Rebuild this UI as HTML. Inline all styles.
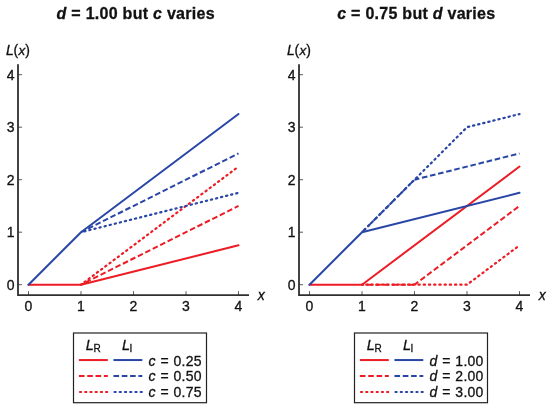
<!DOCTYPE html>
<html><head><meta charset="utf-8"><title>L(x) plots</title>
<style>
html,body{margin:0;padding:0;background:#fff;}
body{width:550px;height:407px;overflow:hidden;}
svg{display:block;}
text{font-family:"Liberation Sans",Arial,sans-serif;fill:#111;stroke:#111;stroke-width:0.3px;}
.i{font-style:italic;}
.tk{font-size:14px;}
.al{font-size:14px;}
.lg{font-size:14.5px;}
.sub{font-size:10px;}
.lt{font-size:14px;word-spacing:0.5px;letter-spacing:0.25px;}
.tt{font-size:16px;font-weight:bold;letter-spacing:0.27px;}
</style></head>
<body>
<svg width="550" height="407" viewBox="0 0 550 407">
<rect width="550" height="407" fill="#fff"/>
<path d="M18.00,64.20V295.20H249.00" fill="none" stroke="#2f2f2f" stroke-width="1.8"/>
<path d="M18.00,284.70h4 M28.50,295.20v-4 M18.00,232.20h4 M81.00,295.20v-4 M18.00,179.70h4 M133.50,295.20v-4 M18.00,127.20h4 M186.00,295.20v-4 M18.00,74.70h4 M238.50,295.20v-4" stroke="#2f2f2f" stroke-width="0.8"/>
<text class="tk" x="14.50" y="289.60" text-anchor="end">0</text>
<text class="tk" x="28.50" y="311.40" text-anchor="middle">0</text>
<text class="tk" x="14.50" y="237.10" text-anchor="end">1</text>
<text class="tk" x="81.00" y="311.40" text-anchor="middle">1</text>
<text class="tk" x="14.50" y="184.60" text-anchor="end">2</text>
<text class="tk" x="133.50" y="311.40" text-anchor="middle">2</text>
<text class="tk" x="14.50" y="132.10" text-anchor="end">3</text>
<text class="tk" x="186.00" y="311.40" text-anchor="middle">3</text>
<text class="tk" x="14.50" y="79.60" text-anchor="end">4</text>
<text class="tk" x="238.50" y="311.40" text-anchor="middle">4</text>
<text class="al" x="6.10" y="54.7"><tspan class="i">L</tspan><tspan dx="-0.5">(</tspan><tspan class="i" font-size="13.5" dx="0.4">x</tspan>)</text>
<text class="al i" x="257.80" y="300" font-size="13">x</text>
<polyline points="28.50,284.70 81.00,284.70 238.50,245.32" fill="none" stroke="#ed1c24" stroke-width="2.0" stroke-linecap="round" stroke-linejoin="round"/>
<polyline points="28.50,284.70 81.00,232.20 238.50,114.07" fill="none" stroke="#2946a6" stroke-width="2.0" stroke-linecap="round" stroke-linejoin="round"/>
<polyline points="81.00,284.70 238.50,205.95" fill="none" stroke="#ed1c24" stroke-width="2.0" stroke-dasharray="5.6 2.73" stroke-dashoffset="53.10"/>
<polyline points="81.00,232.20 238.50,153.45" fill="none" stroke="#2946a6" stroke-width="2.0" stroke-dasharray="5.6 2.73" stroke-dashoffset="75.35"/>
<polyline points="81.00,284.70 238.50,166.57" fill="none" stroke="#ed1c24" stroke-width="2.2" stroke-dasharray="1.3 3.92" stroke-linecap="round" stroke-dashoffset="53.15"/>
<polyline points="81.00,232.20 238.50,192.82" fill="none" stroke="#2946a6" stroke-width="2.2" stroke-dasharray="1.3 3.92" stroke-linecap="round" stroke-dashoffset="74.90"/>
<rect x="73.50" y="333" width="133" height="69.7" fill="none" stroke="#222" stroke-width="1.2"/>
<text class="lg" x="85.80" y="349.9"><tspan class="i">L</tspan><tspan class="sub" dx="-0.4" dy="2.3">R</tspan></text>
<text class="lg" x="121.90" y="349.9"><tspan class="i">L</tspan><tspan class="sub" dx="-0.6" dy="2.3">I</tspan></text>
<line x1="78.90" y1="360.05" x2="107.80" y2="360.05" stroke="#ed1c24" stroke-width="2.0"/>
<line x1="113.45" y1="360.05" x2="142.30" y2="360.05" stroke="#2946a6" stroke-width="2.0"/>
<text class="lt" x="148.60" y="365.60"><tspan class="i">c</tspan> = 0.25</text>
<line x1="78.90" y1="376.00" x2="107.80" y2="376.00" stroke="#ed1c24" stroke-width="2.0" stroke-dasharray="5.6 2.73"/>
<line x1="113.45" y1="376.00" x2="142.30" y2="376.00" stroke="#2946a6" stroke-width="2.0" stroke-dasharray="5.6 2.73"/>
<text class="lt" x="148.60" y="381.40"><tspan class="i">c</tspan> = 0.50</text>
<line x1="78.90" y1="391.95" x2="107.80" y2="391.95" stroke="#ed1c24" stroke-width="2.0" stroke-dasharray="1.3 3.92" stroke-linecap="round" stroke-dashoffset="-1.0"/>
<line x1="113.45" y1="391.95" x2="142.30" y2="391.95" stroke="#2946a6" stroke-width="2.0" stroke-dasharray="1.3 3.92" stroke-linecap="round" stroke-dashoffset="-1.0"/>
<text class="lt" x="148.60" y="397.20"><tspan class="i">c</tspan> = 0.75</text>
<text class="tt" x="56.6" y="18.8"><tspan class="i">d</tspan> = 1.00 but <tspan class="i">c</tspan> varies</text>
<path d="M299.00,64.20V295.20H530.00" fill="none" stroke="#2f2f2f" stroke-width="1.8"/>
<path d="M299.00,284.70h4 M309.50,295.20v-4 M299.00,232.20h4 M362.00,295.20v-4 M299.00,179.70h4 M414.50,295.20v-4 M299.00,127.20h4 M467.00,295.20v-4 M299.00,74.70h4 M519.50,295.20v-4" stroke="#2f2f2f" stroke-width="0.8"/>
<text class="tk" x="295.50" y="289.60" text-anchor="end">0</text>
<text class="tk" x="309.50" y="311.40" text-anchor="middle">0</text>
<text class="tk" x="295.50" y="237.10" text-anchor="end">1</text>
<text class="tk" x="362.00" y="311.40" text-anchor="middle">1</text>
<text class="tk" x="295.50" y="184.60" text-anchor="end">2</text>
<text class="tk" x="414.50" y="311.40" text-anchor="middle">2</text>
<text class="tk" x="295.50" y="132.10" text-anchor="end">3</text>
<text class="tk" x="467.00" y="311.40" text-anchor="middle">3</text>
<text class="tk" x="295.50" y="79.60" text-anchor="end">4</text>
<text class="tk" x="519.50" y="311.40" text-anchor="middle">4</text>
<text class="al" x="287.10" y="54.7"><tspan class="i">L</tspan><tspan dx="-0.5">(</tspan><tspan class="i" font-size="13.5" dx="0.4">x</tspan>)</text>
<text class="al i" x="538.80" y="300" font-size="13">x</text>
<polyline points="309.50,284.70 362.00,284.70 519.50,166.57" fill="none" stroke="#ed1c24" stroke-width="2.0" stroke-linecap="round" stroke-linejoin="round"/>
<polyline points="309.50,284.70 362.00,232.20 519.50,192.82" fill="none" stroke="#2946a6" stroke-width="2.0" stroke-linecap="round" stroke-linejoin="round"/>
<polyline points="362.00,284.70 414.50,284.70" fill="none" stroke="#ed1c24" stroke-width="2.0" stroke-dasharray="5.6 2.73" stroke-dashoffset="3.40"/>
<polyline points="414.50,284.70 519.50,205.95" fill="none" stroke="#ed1c24" stroke-width="2.0" stroke-dasharray="5.6 2.73" stroke-dashoffset="0.90"/>
<polyline points="362.00,232.20 414.50,179.70" fill="none" stroke="#2946a6" stroke-width="2.0" stroke-dasharray="5.6 2.73" stroke-dashoffset="0.40"/>
<polyline points="414.50,179.70 519.50,153.45" fill="none" stroke="#2946a6" stroke-width="2.0" stroke-dasharray="5.6 2.73" stroke-dashoffset="150.60"/>
<polyline points="362.00,284.70 467.00,284.70 519.50,245.32" fill="none" stroke="#ed1c24" stroke-width="2.2" stroke-dasharray="1.3 3.92" stroke-linecap="round" stroke-dashoffset="53.15"/>
<polyline points="362.00,232.20 467.00,127.20 519.50,114.07" fill="none" stroke="#2946a6" stroke-width="2.2" stroke-dasharray="1.3 3.92" stroke-linecap="round" stroke-dashoffset="74.90"/>
<rect x="354.50" y="333" width="133" height="69.7" fill="none" stroke="#222" stroke-width="1.2"/>
<text class="lg" x="366.80" y="349.9"><tspan class="i">L</tspan><tspan class="sub" dx="-0.4" dy="2.3">R</tspan></text>
<text class="lg" x="402.90" y="349.9"><tspan class="i">L</tspan><tspan class="sub" dx="-0.6" dy="2.3">I</tspan></text>
<line x1="359.90" y1="360.05" x2="388.80" y2="360.05" stroke="#ed1c24" stroke-width="2.0"/>
<line x1="394.45" y1="360.05" x2="423.30" y2="360.05" stroke="#2946a6" stroke-width="2.0"/>
<text class="lt" x="429.60" y="365.60"><tspan class="i">d</tspan> = 1.00</text>
<line x1="359.90" y1="376.00" x2="388.80" y2="376.00" stroke="#ed1c24" stroke-width="2.0" stroke-dasharray="5.6 2.73"/>
<line x1="394.45" y1="376.00" x2="423.30" y2="376.00" stroke="#2946a6" stroke-width="2.0" stroke-dasharray="5.6 2.73"/>
<text class="lt" x="429.60" y="381.40"><tspan class="i">d</tspan> = 2.00</text>
<line x1="359.90" y1="391.95" x2="388.80" y2="391.95" stroke="#ed1c24" stroke-width="2.0" stroke-dasharray="1.3 3.92" stroke-linecap="round" stroke-dashoffset="-1.0"/>
<line x1="394.45" y1="391.95" x2="423.30" y2="391.95" stroke="#2946a6" stroke-width="2.0" stroke-dasharray="1.3 3.92" stroke-linecap="round" stroke-dashoffset="-1.0"/>
<text class="lt" x="429.60" y="397.20"><tspan class="i">d</tspan> = 3.00</text>
<text class="tt" x="337.2" y="18.8"><tspan class="i">c</tspan> = 0.75 but <tspan class="i">d</tspan> varies</text>
</svg>
</body></html>
